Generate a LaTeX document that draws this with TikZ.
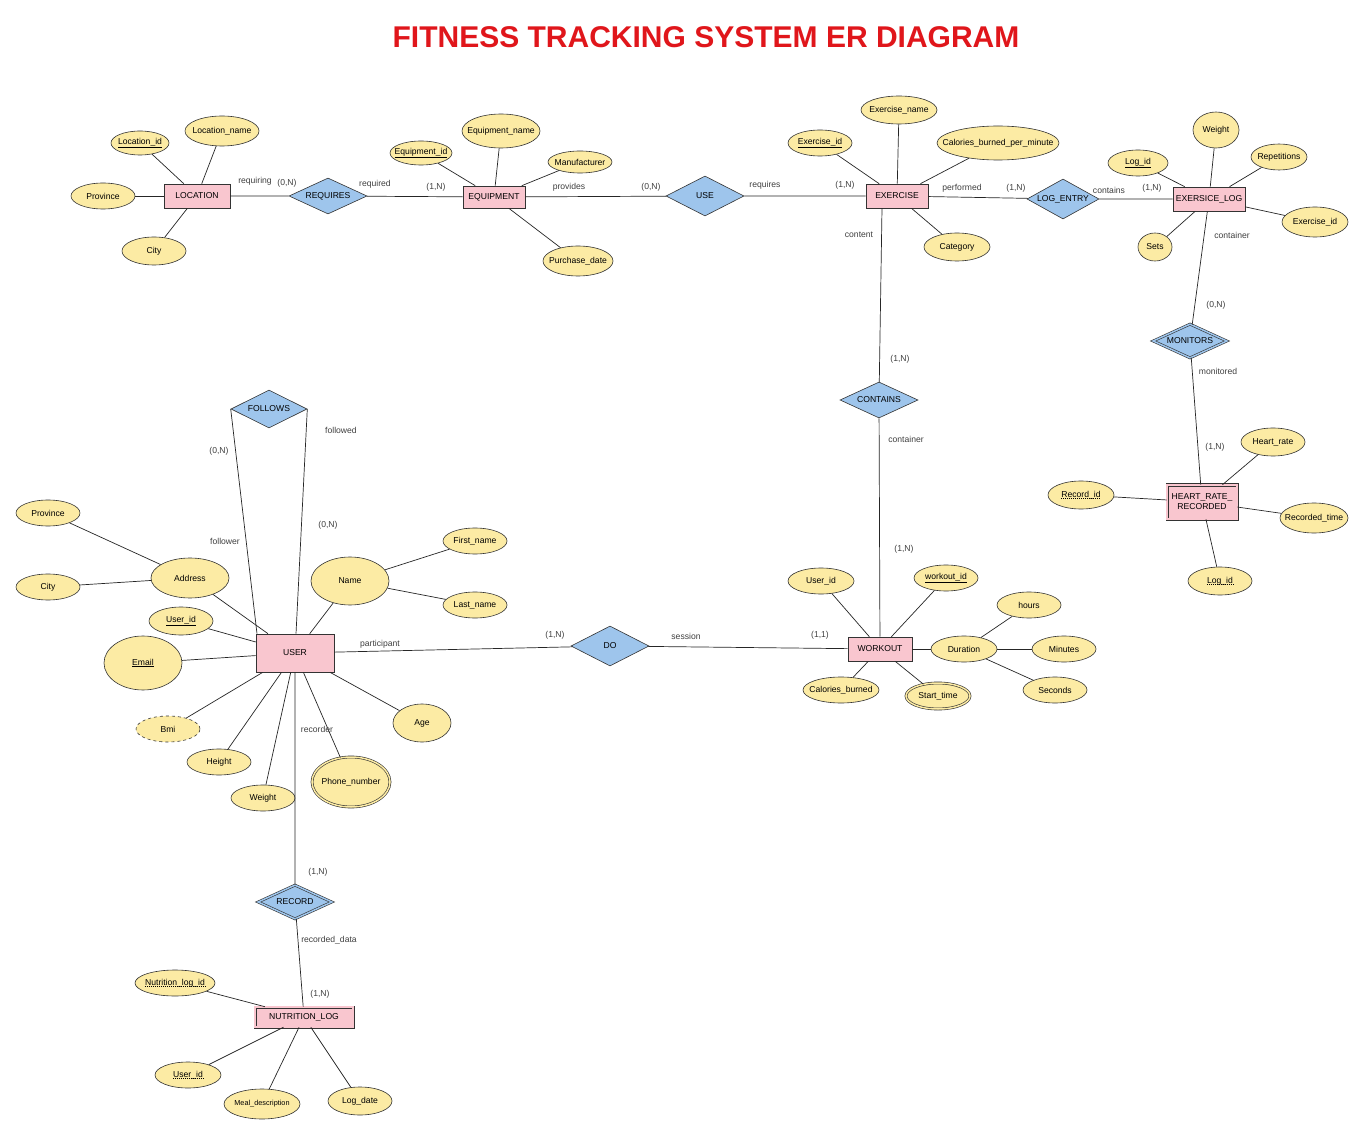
\documentclass[tikz,border=0pt]{standalone}
\usepackage{fontspec}
\setmainfont{Liberation Sans}
\usetikzlibrary{shapes.geometric}
\definecolor{attrf}{HTML}{FCEBA4}
\definecolor{entf}{HTML}{F9C6CF}
\definecolor{relf}{HTML}{9EC5EC}
\definecolor{ln}{HTML}{333333}
\definecolor{titlered}{HTML}{E0161B}
\tikzset{
 every node/.style={font=\fontsize{8.6}{10}\selectfont, inner sep=0pt},
 attr/.style={ellipse, draw=ln, fill=attrf, line width=0.6pt},
 ent/.style={rectangle, draw=ln, fill=entf, line width=0.6pt, minimum height=24pt},
 went/.style={ent, double=entf, double distance=1.8pt, draw=ln},
 rel/.style={diamond, aspect=2, draw=ln, fill=relf, line width=0.6pt},
 wrel/.style={rel, double=relf, double distance=1.5pt},
 mv/.style={attr, double=attrf, double distance=1.5pt},
 lab/.style={text=black!75},
 conn/.style={draw=black!85, line width=0.7pt},
}
\newcommand{\dul}[1]{\tikz[baseline=(u.base)]{\node[rectangle, inner sep=0pt, minimum width=0pt, minimum height=0pt, draw=none, fill=none](u){#1};\draw[line width=0.5pt,dash pattern=on 1pt off 1pt]([yshift=-1.5pt]u.base west)--([yshift=-1.5pt]u.base east);}}
\newcommand{\at}[5]{\node[attr, minimum width=#3pt, minimum height=#4pt] (#1) at (#2) {\makebox[0pt]{#5}};}
\begin{document}
\begin{tikzpicture}[x=1pt,y=-1pt]
\useasboundingbox[fill=white] (0,0) rectangle (1358,1131);
\node[font=\fontsize{30}{32}\selectfont\bfseries, text=titlered] (title) at (706,37) {FITNESS TRACKING SYSTEM ER DIAGRAM};
% entities
\node[ent, minimum width=66pt] (loc) at (197,196) {LOCATION};
\node[ent, minimum width=62pt, minimum height=22pt] (equ) at (494,197) {EQUIPMENT};
\node[ent, minimum width=62pt] (exe) at (897,196) {EXERCISE};
\node[ent, minimum width=72pt] (exl) at (1209,199) {\makebox[0pt]{EXERSICE\_LOG}};
\node[went, minimum width=70pt, minimum height=34pt, align=center] (hrr) at (1202,502) {HEART\_RATE\_\\RECORDED};
\node[ent, minimum width=78pt, minimum height=38pt] (usr) at (295,653) {USER};
\node[ent, minimum width=64pt] (wko) at (880,649) {WORKOUT};
\node[went, minimum width=98pt, minimum height=20pt] (nut) at (304,1017) {NUTRITION\_LOG};
% relationships
\node[rel, minimum width=78pt, minimum height=36pt] (req) at (328,196) {\makebox[0pt]{REQUIRES}};
\node[rel, minimum width=78pt, minimum height=40pt] (use) at (705,196) {USE};
\node[rel, minimum width=72pt, minimum height=40pt] (loge) at (1063,199) {\makebox[0pt]{LOG\_ENTRY}};
\node[wrel, minimum width=74pt, minimum height=34pt] (mon) at (1190,341) {\makebox[0pt]{MONITORS}};
\node[rel, minimum width=78pt, minimum height=36pt] (con) at (879,400) {\makebox[0pt]{CONTAINS}};
\node[rel, minimum width=76pt, minimum height=38pt] (fol) at (269,409) {\makebox[0pt]{FOLLOWS}};
\node[rel, minimum width=78pt, minimum height=40pt] (do) at (610,646) {DO};
\node[wrel, minimum width=74pt, minimum height=34pt] (rec) at (295,902) {\makebox[0pt]{RECORD}};
% attributes
\at{a1}{140,143}{58}{24}{\underline{Location\_id}}
\at{a2}{222,131}{74}{30}{Location\_name}
\at{a3}{103,196}{64}{26}{Province}
\at{a4}{154,251}{64}{28}{City}
\at{b1}{421,153}{62}{24}{\underline{Equipment\_id}}
\at{b2}{501,131}{78}{34}{Equipment\_name}
\at{b3}{580,162}{64}{22}{Manufacturer}
\at{b4}{578,261}{70}{30}{Purchase\_date}
\at{c1}{899,110}{76}{28}{Exercise\_name}
\at{c2}{820,143}{64}{26}{\underline{Exercise\_id}}
\at{c3}{998,143}{122}{34}{Calories\_burned\_per\_minute}
\at{c4}{957,247}{66}{28}{Category}
\at{d1}{1138,163}{60}{26}{\underline{Log\_id}}
\at{d2}{1216,130}{46}{36}{Weight}
\at{d3}{1279,157}{56}{26}{Repetitions}
\at{d4}{1315,222}{66}{30}{Exercise\_id}
\at{d5}{1155,247}{34}{28}{Sets}
\at{e1}{1273,442}{64}{28}{Heart\_rate}
\at{e2}{1081,495}{66}{28}{\dul{Record\_id}}
\at{e3}{1314,518}{68}{30}{Recorded\_time}
\at{e4}{1220,581}{64}{28}{\dul{Log\_id}}
\at{f1}{48,513}{64}{26}{Province}
\at{f2}{48,587}{64}{26}{City}
\at{f3}{190,578}{78}{40}{Address}
\at{f4}{181,621}{64}{28}{\underline{User\_id}}
\at{f5}{143,663}{78}{54}{\underline{Email}}
\node[attr, dashed, minimum width=64pt, minimum height=26pt] (f6) at (168,729) {Bmi};
\at{f7}{219,762}{64}{26}{Height}
\at{f8}{263,798}{64}{26}{Weight}
\at{f9}{350,581}{78}{48}{Name}
\at{f10}{475,541}{64}{26}{First\_name}
\at{f11}{475,605}{64}{26}{Last\_name}
\at{f12}{422,723}{58}{38}{Age}
\node[mv, minimum width=78pt, minimum height=50pt] (f13) at (351,782) {\makebox[0pt]{Phone\_number}};
\at{g1}{821,581}{66}{26}{User\_id}
\at{g2}{946,578}{64}{26}{\underline{workout\_id}}
\at{g3}{841,690}{76}{26}{Calories\_burned}
\node[mv, minimum width=64pt, minimum height=26pt] (g4) at (938,696) {\makebox[0pt]{Start\_time}};
\at{g5}{964,649}{66}{26}{Duration}
\at{g6}{1029,605}{64}{26}{hours}
\at{g7}{1064,649}{64}{26}{Minutes}
\at{g8}{1055,690}{64}{26}{Seconds}
\at{h1}{175,983}{80}{26}{\dul{Nutrition\_log\_id}}
\at{h2}{188,1075}{66}{26}{\dul{User\_id}}
\at{h3}{262,1104}{76}{30}{\fontsize{7.3}{8}\selectfont Meal\_description}
\at{h4}{360,1101}{64}{28}{Log\_date}
% attribute lines
\foreach \e/\a in {loc/a1,loc/a2,loc/a3,loc/a4,equ/b1,equ/b2,equ/b3,equ/b4,exe/c1,exe/c2,exe/c3,exe/c4,exl/d1,exl/d2,exl/d3,exl/d4,exl/d5,hrr/e1,hrr/e2,hrr/e3,hrr/e4,usr/f3,usr/f4,usr/f5,usr/f6,usr/f7,usr/f8,usr/f9,usr/f12,usr/f13,wko/g1,wko/g2,wko/g3,wko/g4,wko/g5,g5/g6,g5/g7,g5/g8,f3/f1,f3/f2,f9/f10,f9/f11,nut/h1,nut/h2,nut/h3,nut/h4}
  \draw[conn] (\e) -- (\a);
% relationship lines
\draw[conn] (loc) -- (req) -- (equ);
\draw[conn] (equ) -- (use) -- (exe);
\draw[conn] (exe) -- (loge) -- (exl);
\draw[conn] (exl) -- (mon) -- (hrr);
\coordinate (exs) at ([xshift=-15pt]exe.south);
\draw[conn] (exs) -- (con) -- (wko);
\draw[conn] (usr) -- (do) -- (wko);
\draw[conn] (usr) -- (rec) -- (nut);
\coordinate (ufl) at ([xshift=-38pt]usr.north);
\coordinate (ufr) at ([xshift=1pt]usr.north);
\draw[conn] (fol.west) -- (ufl);
\draw[conn] (fol.east) -- (ufr);
% labels
\foreach \x/\y/\t in {255/181/{requiring},287/183/{(0,N)},375/184/{required},436/187/{(1,N)},569/187/{provides},651/187/{(0,N)},765/185/{requires},845/185/{(1,N)},962/188/{performed},1016/188/{(1,N)},1109/190/{contains},1152/188/{(1,N)},859/235/{content},1232/235/{container},1216/305/{(0,N)},1218/371/{monitored},1215/447/{(1,N)},900/359/{(1,N)},906/439/{container},904/549/{(1,N)},219/451/{(0,N)},341/430/{followed},225/541/{follower},328/525/{(0,N)},380/644/{participant},555/635/{(1,N)},686/636/{session},820/635/{(1,1)},317/729/{recorder},318/872/{(1,N)},329/940/{recorded\_data},320/994/{(1,N)}}
  \node[lab] at (\x,\y) {\t};
\end{tikzpicture}
\end{document}
